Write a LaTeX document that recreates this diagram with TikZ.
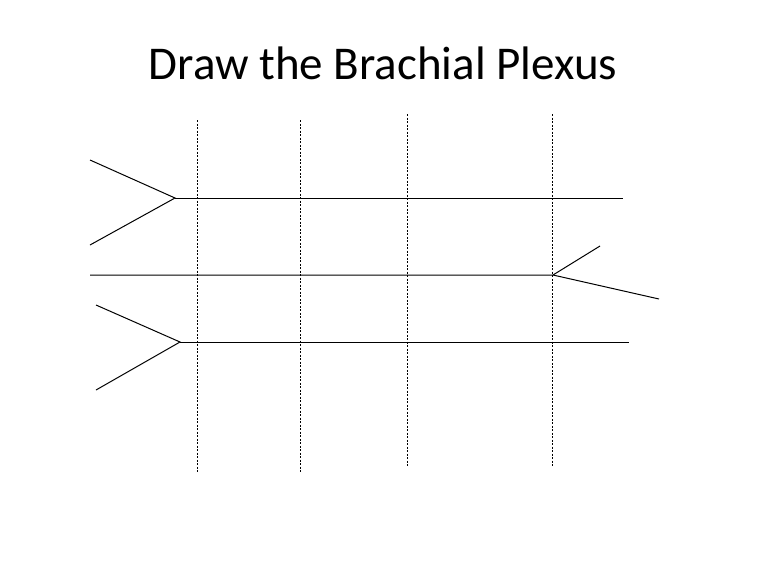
\documentclass[tikz,border=0pt]{standalone}
\usepackage{fontspec}
\setmainfont{Carlito}
\begin{document}
\begin{tikzpicture}[x=1pt,y=-1pt,line width=1pt,
  nerve/.style={draw=black},
  guide/.style={draw=black,line width=0.5pt,dash pattern=on 2pt off 1.5pt}]
\useasboundingbox (0,0) rectangle (768,576);
\node[font=\fontsize{47}{52}\selectfont] (title) at (383,63) {Draw the Brachial Plexus};
% top
\coordinate (a1) at (90,160); \coordinate (a2) at (90,245); \coordinate (aj) at (175,198); \coordinate (ae) at (623,198);
\draw[nerve] (a1) -- (aj) -- (a2); \draw[nerve] (aj) -- (ae);
% middle
\coordinate (b0) at (90,275); \coordinate (bj) at (553,275); \coordinate (b1) at (600,246); \coordinate (b2) at (659,299);
\draw[nerve] (b0) -- (bj) -- (b1); \draw[nerve] (bj) -- (b2);
% bottom
\coordinate (c1) at (96,305); \coordinate (c2) at (96,390); \coordinate (cj) at (180,342); \coordinate (ce) at (629,342);
\draw[nerve] (c1) -- (cj) -- (c2); \draw[nerve] (cj) -- (ce);
% guides
\coordinate (d1t) at (197,120); \coordinate (d1b) at (197,472);
\coordinate (d2t) at (300,120); \coordinate (d2b) at (300,472);
\coordinate (d3t) at (407,114); \coordinate (d3b) at (407,467);
\coordinate (d4t) at (552,114); \coordinate (d4b) at (552,467);
\draw[guide] (d1t) -- (d1b); \draw[guide] (d2t) -- (d2b);
\draw[guide] (d3t) -- (d3b); \draw[guide] (d4t) -- (d4b);
\end{tikzpicture}
\end{document}
